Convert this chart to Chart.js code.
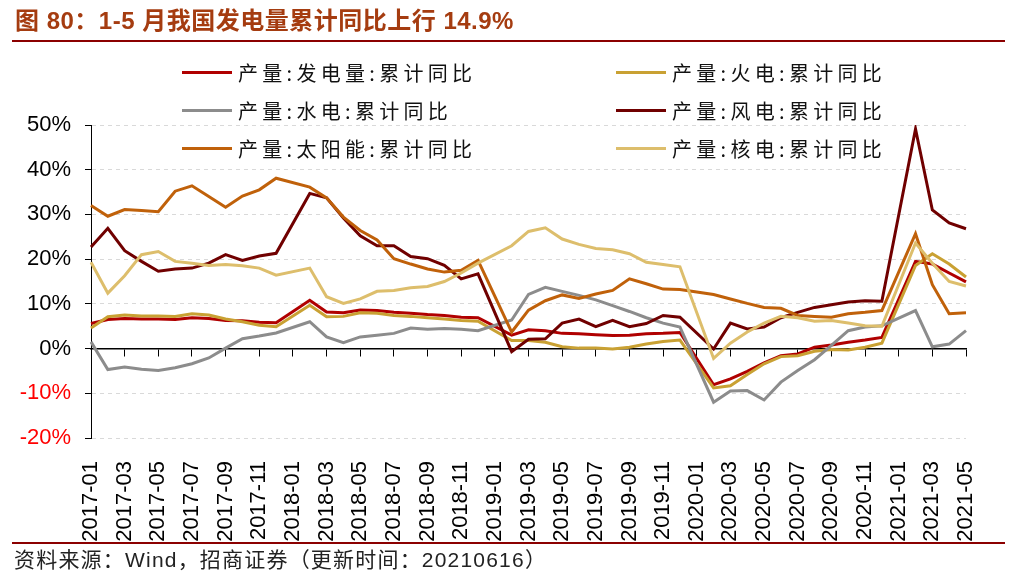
<!DOCTYPE html>
<html>
<head>
<meta charset="utf-8">
<script src="https://cdn.jsdelivr.net/npm/chart.js@4.4.1/dist/chart.umd.min.js"></script>
<style>
body { margin:0; background:#fff; }
#wrap { position:relative; width:1017px; height:582px; overflow:hidden; }
#c { position:absolute; left:0; top:0; }
.title { position:absolute; left:15px; top:6px; font:bold 24px "Liberation Sans", "Noto Sans CJK SC", sans-serif; color:#A53C10; line-height:30px; white-space:nowrap; letter-spacing:0.5px; }
.rule { position:absolute; left:12px; width:993px; height:2px; background:#8B0000; }
.src { position:absolute; left:14px; top:548px; font:21px "Liberation Sans", "Noto Sans CJK SC", sans-serif; color:#222; line-height:24px; white-space:nowrap; letter-spacing:1.2px; }
.lg { position:absolute; height:28px; display:flex; align-items:center; white-space:nowrap; }
.lg i { display:inline-block; width:50px; height:3px; margin-right:6px; }
.lg span { font:20px "Noto Sans CJK SC", sans-serif; letter-spacing:4.3px; color:#111; }
</style>
</head>
<body>
<div id="wrap">
  <canvas id="c" width="1017" height="582"></canvas>
  <div class="title">图 80：1-5 月我国发电量累计同比上行 14.9%</div>
  <div class="rule" style="top:40px"></div>
  <div id="legend"></div>
  <div class="rule" style="top:542px"></div>
  <div class="src">资料来源：Wind，招商证券（更新时间：20210616）</div>
</div>
<script>
// 月份 (1月数据缺失, 用 null, 连线跨过)
const months = [
  '2017-01','2017-02','2017-03','2017-04','2017-05','2017-06','2017-07','2017-08','2017-09','2017-10','2017-11','2017-12',
  '2018-01','2018-02','2018-03','2018-04','2018-05','2018-06','2018-07','2018-08','2018-09','2018-10','2018-11','2018-12',
  '2019-01','2019-02','2019-03','2019-04','2019-05','2019-06','2019-07','2019-08','2019-09','2019-10','2019-11','2019-12',
  '2020-01','2020-02','2020-03','2020-04','2020-05','2020-06','2020-07','2020-08','2020-09','2020-10','2020-11','2020-12',
  '2021-01','2021-02','2021-03','2021-04','2021-05'
];

const fadian = [5.6,6.5,6.7,6.6,6.6,6.5,6.9,6.7,6.3,6.2,5.9,5.8,
  null,10.8,8.2,8.0,8.6,8.5,8.1,7.9,7.6,7.4,7.0,6.9,
  null,3.0,4.2,4.0,3.4,3.3,3.1,2.9,3.0,3.3,3.4,3.6,
  null,-8.1,-6.8,-5.1,-3.2,-1.6,-1.2,0.3,0.8,1.4,1.9,2.5,
  null,19.5,18.9,16.9,14.9];

const huodian = [4.6,7.1,7.5,7.3,7.3,7.2,7.8,7.5,6.6,6.0,5.2,4.9,
  null,9.7,7.1,7.2,8.0,7.9,7.4,7.2,6.9,6.6,6.3,6.1,
  null,1.8,1.8,1.4,0.4,0.1,0.1,-0.1,0.3,1.0,1.6,1.9,
  null,-8.8,-8.3,-5.8,-3.4,-1.8,-1.6,-0.6,-0.2,-0.3,0.3,1.2,
  null,18.6,21.2,18.9,16.0];

const shuidian = [1.5,-4.7,-4.1,-4.6,-4.9,-4.3,-3.4,-2.1,0.1,2.2,2.8,3.5,
  null,6.0,2.6,1.3,2.6,3.0,3.4,4.6,4.3,4.5,4.3,4.0,
  null,6.4,12.1,13.7,12.8,11.9,10.9,9.6,8.3,6.9,5.7,4.8,
  null,-12.0,-9.5,-9.4,-11.5,-7.5,-4.9,-2.5,0.7,4.0,4.8,5.1,
  null,8.5,0.4,1.0,4.0];

const fengdian = [22.7,26.9,21.9,19.5,17.3,17.8,18.0,19.1,21.0,19.7,20.7,21.3,
  null,34.7,33.7,29.2,25.2,23.0,23.0,20.6,20.1,18.6,15.6,16.7,
  null,-0.7,2.1,2.2,5.7,6.6,4.9,6.3,4.9,5.6,7.4,7.0,
  null,-0.1,5.7,4.4,4.8,6.9,8.1,9.2,9.8,10.4,10.7,10.6,
  null,49.1,31.0,28.1,26.8];

const taiyang = [32.0,29.6,31.1,30.9,30.6,35.2,36.4,34.0,31.6,34.1,35.5,38.1,
  null,36.1,33.7,29.4,26.4,24.3,20.1,18.9,17.8,17.1,17.5,19.7,
  null,3.7,8.6,10.7,12.0,11.2,12.2,13.0,15.6,14.5,13.3,13.2,
  null,12.1,11.1,10.1,9.2,9.0,7.4,7.2,7.0,7.8,8.1,8.5,
  null,25.7,14.3,7.8,8.0];

const hedian = [19.3,12.4,16.3,21.0,21.7,19.5,19.1,18.6,18.8,18.5,18.0,16.4,
  null,18.0,11.6,10.1,11.1,12.8,13.0,13.6,13.9,15.0,16.9,19.1,
  null,23.0,26.2,27.0,24.5,23.3,22.4,22.1,21.2,19.3,18.8,18.3,
  null,-2.2,1.2,3.7,5.7,7.2,6.9,6.1,6.3,5.7,5.1,5.0,
  null,23.6,19.1,15.0,14.0];

const names = ['产量:发电量:累计同比','产量:火电:累计同比','产量:水电:累计同比','产量:风电:累计同比','产量:太阳能:累计同比','产量:核电:累计同比'];
const series = [fadian, huodian, shuidian, fengdian, taiyang, hedian];
const colors = ['#B00000','#C9A133','#8C8C8C','#700000','#C0610A','#DDBE6C'];

// 图例 两列三行
let html = '';
names.forEach((n, i) => {
  const row = Math.floor(i / 2), col = i % 2;
  const left = col == 0 ? 182 : 616;
  const top = 58 + row * 38;
  html += '<div class="lg" style="left:' + left + 'px;top:' + top + 'px"><i style="background:' + colors[i] + '"></i><span>' + n + '</span></div>';
});
document.getElementById('legend').innerHTML = html;

const datasets = series.map((d, i) => ({
  label: names[i],
  data: d,
  borderColor: colors[i],
  backgroundColor: colors[i],
  borderWidth: 3,
  pointRadius: 0,
  tension: 0,
  spanGaps: true,
  fill: false,
  order: series.length - i
}));

const axisFont = { family: '"Liberation Sans", Arial, sans-serif', size: 22 };

new Chart('c', {
  type: 'line',
  data: { labels: months, datasets },
  options: {
    responsive: false,
    animation: false,
    layout: { padding: { left: 20, right: 51, top: 125, bottom: 0 } },
    plugins: { legend: { display: false }, tooltip: { enabled: false } },
    scales: {
      y: {
        min: -20, max: 50,
        ticks: {
          stepSize: 10,
          padding: 14,
          font: axisFont,
          color: c => c.tick.value < 0 ? '#FF0000' : '#000',
          callback: v => v + '%'
        },
        grid: { color: '#D9D9D9', tickColor: '#000', tickLength: 6 },
        border: { color: '#000', width: 1, dash: [4, 4] },
        afterFit: s => { s.width = 71; }
      },
      x: {
        ticks: {
          autoSkip: false, minRotation: 90, maxRotation: 90, padding: 15,
          color: '#000', font: axisFont,
          callback: function (v, i) { return i % 2 == 0 ? this.getLabelForValue(v) : ''; }
        },
        grid: { display: false },
        border: { display: false },
        afterFit: s => { s.height = 144; }
      },
      x2: {
        type: 'category',
        position: { y: 0 },
        ticks: { display: false },
        grid: {
          drawOnChartArea: false, tickLength: 7,
          tickColor: c => c.index % 2 == 0 ? '#000' : 'rgba(0,0,0,0)'
        },
        border: { color: '#000', width: 1.5 }
      }
    }
  }
});
</script>
</body>
</html>
